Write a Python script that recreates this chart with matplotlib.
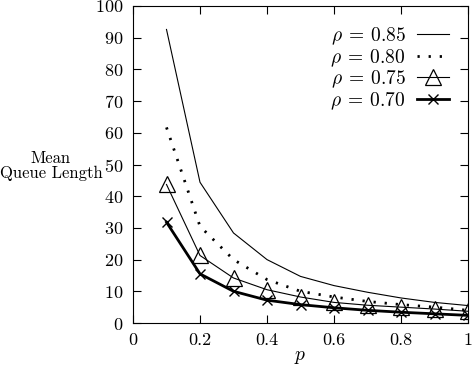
import matplotlib
matplotlib.use("Agg")
import matplotlib.pyplot as plt

plt.rcParams['font.family'] = ['cmr10', 'DejaVu Serif']
plt.rcParams['mathtext.fontset'] = 'cm'
plt.rcParams['axes.formatter.use_mathtext'] = True

p = [0.1, 0.2, 0.3, 0.4, 0.5, 0.6, 0.7, 0.8, 0.9, 1.0]
rho_85 = [92.6, 44.4, 28.4, 20.0, 14.7, 11.8, 9.7, 7.9, 6.5, 5.5]
rho_80 = [61.7, 30.5, 20.0, 13.7, 10.0, 8.2, 6.8, 5.8, 5.0, 4.0]
rho_75 = [43.7, 21.3, 14.2, 10.5, 8.2, 6.5, 5.6, 5.0, 4.4, 3.7]
rho_70 = [31.8, 15.5, 10.0, 7.2, 5.8, 4.8, 4.0, 3.4, 2.9, 2.4]
labels = [r'$\rho\:=\:0.85$', r'$\rho\:=\:0.80$', r'$\rho\:=\:0.75$', r'$\rho\:=\:0.70$']

fig = plt.figure(figsize=(4.74, 3.70), dpi=100)
ax = fig.add_axes([133 / 474, 47 / 370, 335 / 474, 317 / 370])

ax.plot(p, rho_85, color='black', lw=0.8, label=labels[0])
ax.plot(p, rho_80, color='black', lw=2.0, linestyle=(0, (0.8, 3.2)), label=labels[1])
ax.plot(p, rho_75, color='black', lw=0.8, marker='^', markersize=12,
        markerfacecolor='none', markeredgewidth=0.9, label=labels[2])
ax.plot(p, rho_70, color='black', lw=2.0, marker='x', markersize=7,
        markeredgewidth=1.0, label=labels[3])

ax.set_xlim(0, 1)
ax.set_ylim(0, 100)
ax.set_xticks([0, 0.2, 0.4, 0.6, 0.8, 1])
ax.set_xticklabels(['0', '0.2', '0.4', '0.6', '0.8', '1'])
ax.set_yticks(range(0, 101, 10))
ax.tick_params(direction='in', top=True, right=True, length=6, width=0.8,
               labelsize=13, pad=7)
for s in ax.spines.values():
    s.set_linewidth(0.8)

ax.set_xlabel(r'$p$', fontsize=14, labelpad=0)
fig.text(51 / 474, 1 - 166 / 370, 'Mean\nQueue Length', ha='center', va='center',
         fontsize=12, linespacing=1.0)

ax.legend(loc='upper right', frameon=False, markerfirst=False, fontsize=14,
          handlelength=1.6, labelspacing=0.0, borderaxespad=0.7, handletextpad=0.6,
          borderpad=0.3)

fig.savefig('out.png', dpi=100)
